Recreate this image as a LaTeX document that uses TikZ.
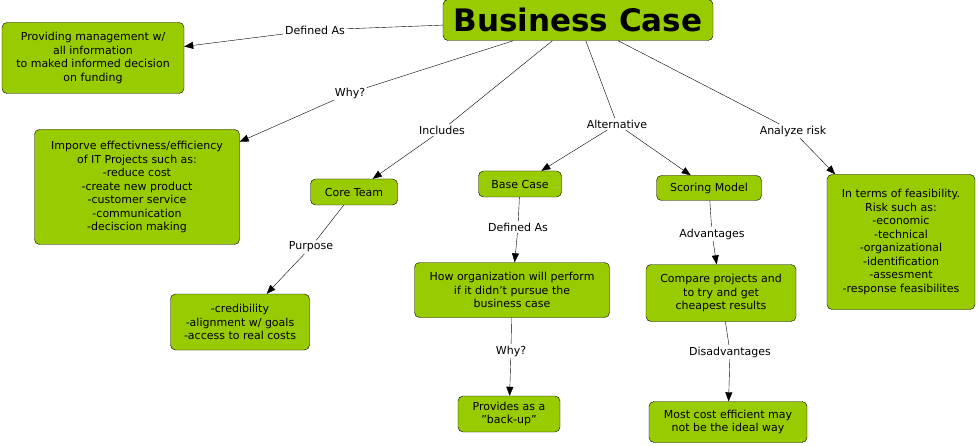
\documentclass[tikz,border=0pt]{standalone}
\usepackage{fontspec}
\setmainfont{DejaVu Sans}
\usetikzlibrary{arrows.meta}
\definecolor{cg}{HTML}{99CC00}
\begin{document}
\begin{tikzpicture}[x=1pt,y=-1pt,
 box/.style={draw=black,fill=cg,rounded corners=5pt,align=center,font=\fontsize{11}{13.5}\selectfont,inner sep=4pt},
 lab/.style={fill=white,inner sep=1.5pt,font=\fontsize{11}{13}\selectfont},
 arr/.style={-{Triangle[length=9pt,width=7pt]}}]
\useasboundingbox (0,0) rectangle (979,446);
\node[box,minimum width=270pt,minimum height=41pt,font=\fontsize{31}{34}\selectfont\bfseries] (bc) at (578,20) {Business Case};
\node[box,minimum width=182pt,minimum height=71pt] (pm) at (93,58) {Providing management w/\\all information\\to maked informed decision\\on funding};
\node[box,minimum width=205pt,minimum height=115pt] (ie) at (137,187) {Imporve effectivness/efficiency\\of IT Projects such as:\\-reduce cost\\-create new product\\-customer service\\-communication\\-deciscion making};
\node[box,minimum width=87pt,minimum height=26pt] (ct) at (354,192) {Core Team};
\node[box,minimum width=139pt,minimum height=56pt] (cr) at (240,322) {-credibility\\-alignment w/ goals\\-access to real costs};
\node[box,minimum width=83pt,minimum height=26pt] (bs) at (520,184) {Base Case};
\node[box,minimum width=195pt,minimum height=55pt] (ho) at (512,290) {How organization will perform\\if it didn't pursue the\\business case};
\node[box,minimum width=102pt,minimum height=36pt] (pr) at (509,414) {Provides as a\\"back-up"};
\node[box,minimum width=105pt,minimum height=25pt] (sm) at (709,188) {Scoring Model};
\node[box,minimum width=150pt,minimum height=57pt] (cp) at (721,293) {Compare projects and\\to try and get\\cheapest results};
\node[box,minimum width=158pt,minimum height=41pt] (mc) at (728,422) {Most cost efficient may\\not be the ideal way};
\node[box,minimum width=148pt,minimum height=135pt] (it) at (901,242) {In terms of feasibility.\\Risk such as:\\-economic\\-technical\\-organizational\\-identification\\-assesment\\-response feasibilites};
\node[lab] (l1) at (315,30) {Defined As};
\node[lab] (l2) at (350,93) {Why?};
\node[lab] (l3) at (442,130) {Includes};
\node[lab] (l4) at (617,124) {Alternative};
\node[lab] (l5) at (793,131) {Analyze risk};
\node[lab] (l6) at (311,247) {Purpose};
\node[lab] (l7) at (518,227) {Defined As};
\node[lab] (l8) at (712,234) {Advantages};
\node[lab] (l9) at (511,351) {Why?};
\node[lab] (l10) at (730,352) {Disadvantages};
\draw (bc) -- (l1); \draw[arr] (l1) -- (pm);
\draw (bc) -- (l2); \draw[arr] (l2) -- (ie);
\draw (bc) -- (l3); \draw[arr] (l3) -- (ct);
\draw (bc) -- (l4); \draw[arr] (l4) -- (bs); \draw[arr] (l4) -- (sm);
\draw (bc) -- (l5); \draw[arr] (l5) -- (it);
\draw (ct) -- (l6); \draw[arr] (l6) -- (cr);
\draw (bs) -- (l7); \draw[arr] (l7) -- (ho);
\draw (ho) -- (l9); \draw[arr] (l9) -- (pr);
\draw (sm) -- (l8); \draw[arr] (l8) -- (cp);
\draw (cp) -- (l10); \draw[arr] (l10) -- (mc);
\end{tikzpicture}
\end{document}
